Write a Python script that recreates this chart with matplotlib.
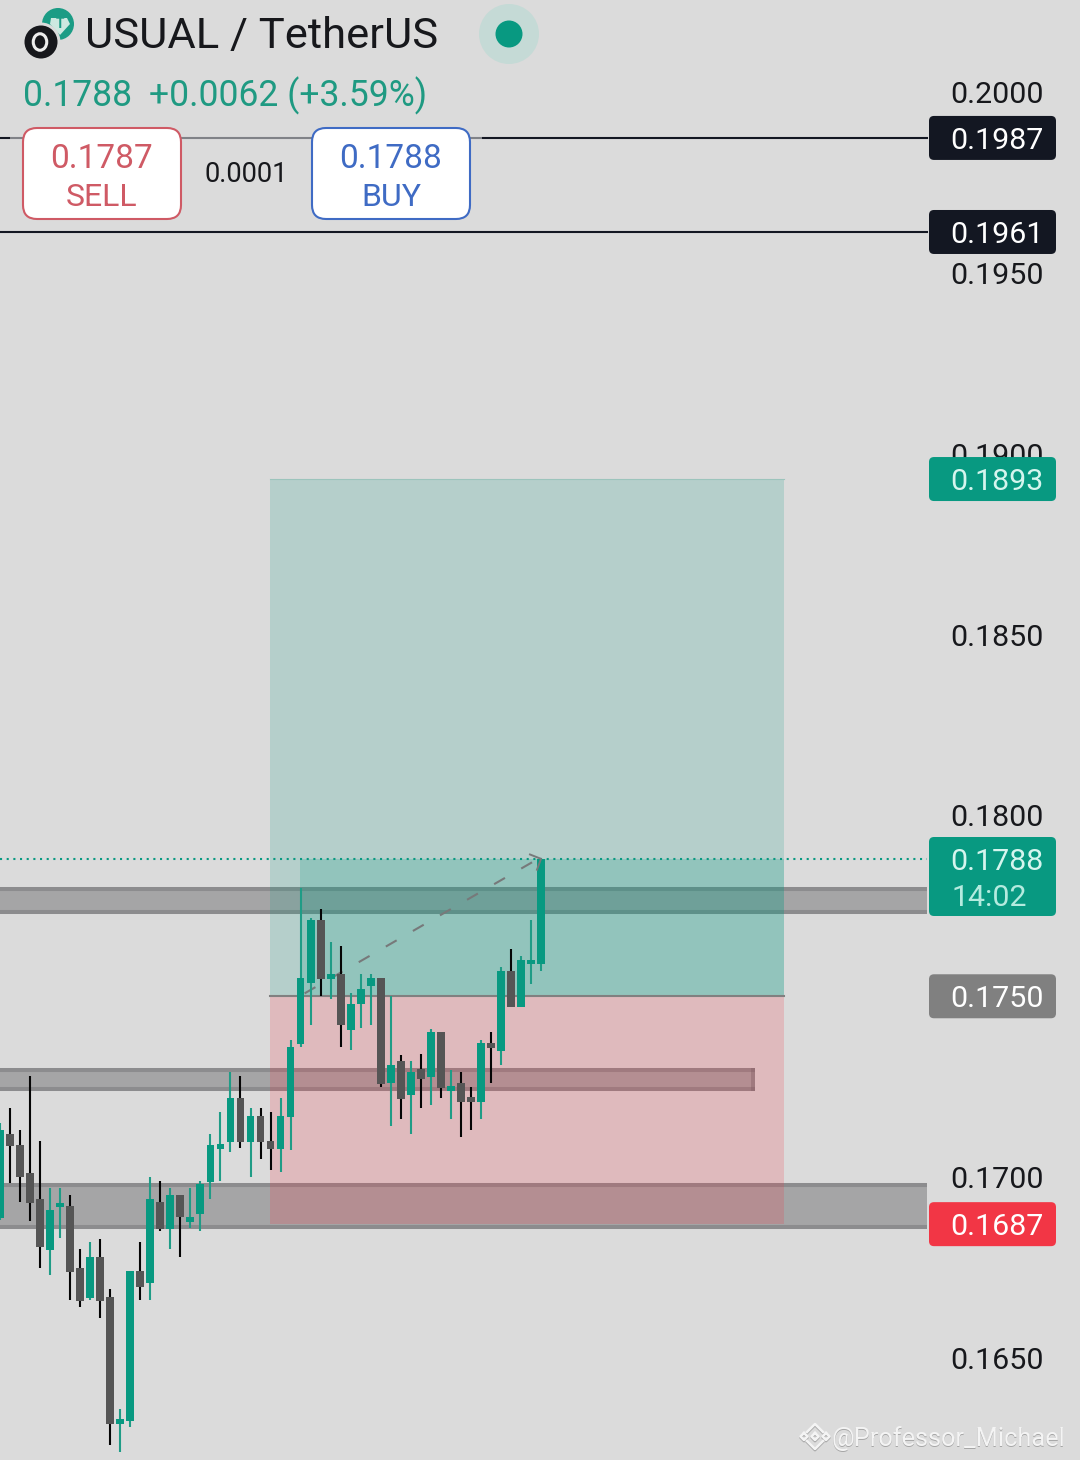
import numpy as np
import matplotlib
matplotlib.use("Agg")
import matplotlib.pyplot as plt
from matplotlib.patches import Rectangle, FancyBboxPatch, Circle, Ellipse, Polygon

plt.rcParams["font.family"] = ["Roboto", "DejaVu Sans"]

# candles, oldest first (one every 10 px or so, first one cut by the left edge)
opens = [.16886, .17119, .17089, .17011, .16940, .16799, .16917, .16920, .16749, .16665, .16779,
         .16669, .16318, .16327, .16741, .16708, .16931, .16857, .16951, .16876, .16899, .16987,
         .17079, .17098, .17219, .17098, .17169, .17100, .17079, .17167, .17368, .17538, .17711,
         .17549, .17561, .17407, .17480, .17529, .17550, .17259, .17321, .17227, .17299, .17278,
         .17401, .17239, .17259, .17219, .17209, .17370, .17350, .17570, .17469, .17588, .17588]
highs = [.17149, .17190, .17130, .17280, .17100, .16969, .16969, .16951, .16801, .16821, .16829,
         .16691, .16359, .16741, .16821, .16999, .16989, .16969, .16951, .16969, .16989, .17119,
         .17180, .17290, .17280, .17190, .17190, .17180, .17218, .17379, .17798, .17717, .17740,
         .17651, .17639, .17508, .17561, .17561, .17550, .17501, .17339, .17321, .17340, .17409,
         .17401, .17296, .17290, .17248, .17379, .17400, .17580, .17630, .17610, .17711, .17880]
lows = [.16882, .16983, .16932, .16880, .16750, .16729, .16831, .16660, .16642, .16660, .16610,
        .16259, .16241, .16310, .16660, .16660, .16851, .16801, .16780, .16860, .16852, .16940,
        .16990, .17070, .17081, .17001, .17050, .17020, .17014, .17075, .17361, .17421, .17501,
        .17492, .17361, .17351, .17411, .17421, .17250, .17141, .17161, .17119, .17192, .17199,
        .17220, .17161, .17112, .17130, .17161, .17261, .17310, .17469, .17469, .17533, .17571]
closes = [.17130, .17086, .16999, .16929, .16808, .16909, .16924, .16739, .16658, .16779, .16658,
          .16318, .16329, .16741, .16696, .16940, .16857, .16951, .16889, .16889, .16982, .17089,
          .17089, .17219, .17098, .17169, .17098, .17079, .17169, .17359, .17550, .17711, .17549,
          .17562, .17420, .17480, .17520, .17550, .17257, .17310, .17217, .17292, .17270, .17402,
          .17247, .17247, .17209, .17209, .17372, .17358, .17570, .17469, .17600, .17591, .17880]

axis_ticks = ["0.2000", "0.1950", "0.1900", "0.1850", "0.1800", "0.1700", "0.1650"]
line_levels = [0.19873, 0.19613]
last_price = 0.1788
target = 0.1893
entry = 0.1750
stop = 0.1687
zones = [(0.17802, 0.17727, 927), (0.17302, 0.17238, 755), (0.16984, 0.16857, 927)]

BG = "#DBDBDB"
TEAL = "#089981"
GREY_BODY = "#555555"
INK = "#17181C"
STEP = 10.02
ZONE = "#6A6A6E"
EDGE_INSET = 0.00005
FS_AXIS = 21.9

fig = plt.figure(figsize=(10.8, 14.6), dpi=100, facecolor=BG)
ax = fig.add_axes([0, 0, 1, 1], facecolor=BG)
ax.set_xlim(0, 1080)
ax.set_ylim(0.162180, 0.202543)
ax.axis("off")
# overlay in screen pixels for the app chrome
ui = fig.add_axes([0, 0, 1, 1], facecolor="none")
ui.set_xlim(0, 1080)
ui.set_ylim(1460, 0)
ui.axis("off")

# grey zones
for top, bot, xr in zones:
    ax.add_patch(Rectangle((0, bot), xr, top - bot, facecolor=ZONE, alpha=0.48, lw=0, zorder=1))
    ax.plot([0, xr], [top - EDGE_INSET, top - EDGE_INSET], color=ZONE, alpha=0.42, lw=2.9,
            solid_capstyle="butt", zorder=1)
    ax.plot([0, xr], [bot + EDGE_INSET, bot + EDGE_INSET], color=ZONE, alpha=0.42, lw=2.9,
            solid_capstyle="butt", zorder=1)
ax.add_patch(Rectangle((751, zones[1][1]), 4, zones[1][0] - zones[1][1], facecolor=ZONE, alpha=0.42, lw=0, zorder=1))

# long position box, over the zones
ax.add_patch(Rectangle((270, entry), 514, target - entry, facecolor=TEAL, alpha=0.175, lw=0, zorder=2))
ax.add_patch(Rectangle((300, entry), 484, last_price - entry, facecolor=TEAL, alpha=0.2, lw=0, zorder=2))
ax.add_patch(Rectangle((270, stop), 514, entry - stop, facecolor="#F23645", alpha=0.2, lw=0, zorder=2))
ax.plot([270, 784], [entry, entry], color="#808080", lw=1.5, zorder=2.5)
ax.plot([270, 784], [target, target], color="#9CC4BC", lw=0.8, zorder=2.5)

# levels
for lev in line_levels:
    ax.plot([0, 927], [lev, lev], color="#131722", lw=1.5, zorder=3)
ax.plot([0, 927], [last_price, last_price], color=TEAL, lw=1.5, ls=(0, (1, 2.2)), zorder=3)

# dashed trend arrow
ax.plot([STEP * 30 + 4, STEP * 54 - 3], [entry + 0.00008, last_price], color="#77797A", lw=1.5,
        ls=(0, (6, 9)), zorder=4)
ax.plot([530, 541, 537], [last_price + 0.00012, last_price, last_price - 0.0003], color="#77797A", lw=1.4, zorder=6)

# candles
for i, (o, h, l, c) in enumerate(zip(opens, highs, lows, closes)):
    x = i * STEP
    up = c >= o
    ax.vlines(x, l, h, color="#1F9C86" if up else "#050505", lw=1.5, zorder=5)
    ax.bar(x, max(abs(c - o), 0.00012), bottom=min(o, c), width=7.8,
           color=TEAL if up else GREY_BODY, lw=0, zorder=5)

# price scale
for t in axis_ticks:
    ax.text(1044, float(t), t, fontsize=FS_AXIS, color=INK, ha="right", va="center_baseline", zorder=6)


def tag(price, color, txt_color="white"):
    y = 92 + (0.2 - price) * 36171
    ui.add_patch(FancyBboxPatch((931, y - 20), 123, 40, boxstyle="round,pad=2,rounding_size=5",
                                facecolor=color, lw=0, zorder=8))
    ui.text(1044, y, f"{price:.4f}", fontsize=FS_AXIS, color=txt_color, ha="right", va="center_baseline", zorder=9)


tag(line_levels[0], "#131722")
tag(line_levels[1], "#131722")
tag(target, TEAL, "#D5F5EE")
tag(entry, "#808080")
tag(stop, "#F23645")
ui.add_patch(FancyBboxPatch((931, 839), 123, 75, boxstyle="round,pad=2,rounding_size=5",
                            facecolor=TEAL, lw=0, zorder=8))
ui.text(1044, 859, "0.1788", fontsize=FS_AXIS, color="#D5F5EE", ha="right", va="center_baseline", zorder=9)
ui.text(951, 895, "14:02", fontsize=FS_AXIS, color="#B4EBDF", ha="left", va="center_baseline", zorder=9)

# header
ui.add_patch(Circle((58, 24), 16, facecolor="#1B9C85", lw=0, zorder=8))
ui.add_patch(Polygon([(51, 18), (67, 18), (70, 24), (60, 35), (50, 24)], closed=True,
                     facecolor="#CDE8E0", lw=0, zorder=9))
ui.text(60, 24, "T", fontsize=10, color="#1B9C85", ha="center", va="center", fontweight="bold", zorder=9)
ui.add_patch(Circle((41, 42), 19.5, facecolor=BG, lw=0, zorder=9))
ui.add_patch(Circle((41, 42), 16.5, facecolor="#17181C", lw=0, zorder=10))
ui.add_patch(Ellipse((40, 42), 13.5, 16.5, facecolor="#17181C", edgecolor="#EDEDED", lw=2.2, zorder=11))
ui.text(85, 32, "USUAL / TetherUS", fontsize=31.3, color=INK, ha="left", va="center_baseline", zorder=9)
ui.add_patch(Circle((509, 34), 30, facecolor="#C5DAD6", lw=0, zorder=8))
ui.add_patch(Circle((509, 34), 13.5, facecolor=TEAL, lw=0, zorder=9))
ui.text(23, 92, "0.1788", fontsize=25.6, color="#1F9A82", ha="left", va="center_baseline", zorder=9)
ui.text(149, 92, "+0.0062 (+3.59%)", fontsize=25.6, color="#1F9A82", ha="left", va="center_baseline", zorder=9)

# sell / buy buttons
ui.add_patch(Rectangle((10, 128), 472, 90, facecolor=BG, alpha=0.55, lw=0, zorder=7))
for x0, edge, txt, label, cx in [(23, "#CF5A65", "0.1787", "SELL", 102), (312, "#3F6BC4", "0.1788", "BUY", 391)]:
    ui.add_patch(FancyBboxPatch((x0 + 12, 140), 134, 67, boxstyle="round,pad=12,rounding_size=14",
                                facecolor="white", edgecolor=edge, lw=1.5, zorder=8))
    ui.text(cx, 155, txt, fontsize=24, color=edge, ha="center", va="center_baseline", zorder=9)
    ui.text(cx, 194, label, fontsize=23, color=edge, ha="center", va="center_baseline", zorder=9)
ui.text(246, 172, "0.0001", fontsize=19.6, color=INK, ha="center", va="center_baseline", zorder=9)

# watermark, embossed: grey shadow then light face
logo_lines = [[(807, 1432), (815, 1424), (823, 1432)], [(807, 1441), (815, 1449), (823, 1441)],
              [(804, 1433), (800.5, 1436.5), (804, 1440), (807.5, 1436.5), (804, 1433)],
              [(826, 1433), (822.5, 1436.5), (826, 1440), (829.5, 1436.5), (826, 1433)],
              [(815, 1433), (811.5, 1436.5), (815, 1440), (818.5, 1436.5), (815, 1433)]]
for dy, col, z in [(1.2, "#A6A6A6", 9), (0, "#F4F4F4", 10)]:
    for pts in logo_lines:
        xs, ys = zip(*pts)
        ui.plot(xs, [v + dy for v in ys], color=col, lw=1.8, zorder=z)
    ui.text(832, 1436 + dy, "@Professor_Michael", fontsize=18.3, color=col, ha="left",
            va="center_baseline", zorder=z)

fig.savefig("out.png", dpi=100, facecolor=BG)
